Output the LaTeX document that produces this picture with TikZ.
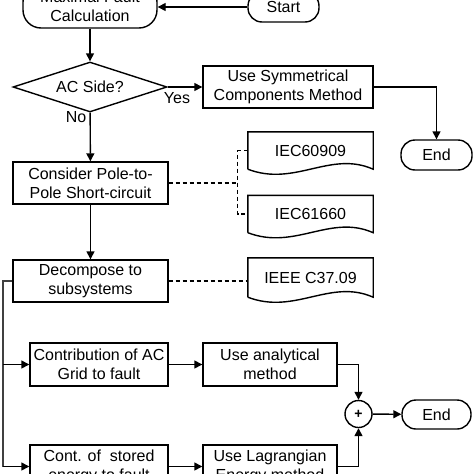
\documentclass[tikz,border=0pt]{standalone}
\usepackage{fontspec}
\setmainfont{Liberation Sans}
\usetikzlibrary{arrows.meta,shapes.geometric,calc}

\tikzset{
  box/.style={draw, line width=1.4pt, minimum height=42pt, align=center, inner sep=1pt},
  term/.style={draw, line width=1.4pt, rounded corners=14pt, minimum height=30pt, align=center},
  dec/.style={draw, diamond, line width=1.4pt, aspect=3, inner sep=0pt, minimum width=154pt, minimum height=50pt},
  doc/.style={minimum width=125pt, minimum height=37pt, inner sep=0pt},
  sumnode/.style={draw, circle, line width=1.4pt, minimum size=27pt, inner sep=0pt},
  flow/.style={line width=1.4pt, -{Triangle[length=8pt,width=8pt]}},
  link/.style={line width=1.3pt, dash pattern=on 4pt off 3pt},
}

% document shape drawn round a doc node
\newcommand{\docwave}[1]{%
  \draw[line width=1.4pt] (#1.south west) -- (#1.north west) -- (#1.north east) -- (#1.south east)
    .. controls +(-43,-19) and +(47,18) .. (#1.south west);}

\begin{document}
\begin{tikzpicture}[x=1pt, y=-1pt, every node/.append style={font=\fontsize{16}{19}\selectfont}]

\useasboundingbox (0,0) rectangle (474,474);
\clip (0,0) rectangle (474,474);

% Top part
\node[term, minimum width=134pt, minimum height=44pt, rounded corners=18pt] (maxf) at (90,6) {Maximal Fault\\Calculation};
\node[term, minimum width=71pt] (start) at (283.5,7) {Start};
\node[dec] (acside) at (90,87) {AC Side?};
\node[box, minimum width=170pt] (sym) at (288,87) {Use Symmetrical\\Components Method};
\node[term, minimum width=71pt] (end1) at (436.5,155) {End};

\node (yes) at (177,98) {Yes};
\node (no) at (76,117) {No};

% DC side
\node[box, minimum width=155pt] (consider) at (90.5,183) {Consider Pole-to-\\Pole Short-circuit};
\node[box, minimum width=155pt] (decomp) at (90.5,281) {Decompose to\\subsystems};

% Standards
\node[doc] (iec1) at (310.5,150.5) {IEC60909};
\node[doc] (iec2) at (310.5,214) {IEC61660};
\node[doc, minimum height=39pt] (ieee) at (310.5,277.5) {IEEE C37.09};
\docwave{iec1}
\docwave{iec2}
\docwave{ieee}

% Subsystems
\node[box, minimum width=138pt, minimum height=43pt] (contrib) at (99,364.5) {Contribution of AC\\Grid to fault};
\node[box, minimum width=134pt, minimum height=43pt] (analytic) at (270,364.5) {Use analytical\\method};
\node[box, minimum width=138pt, minimum height=43pt] (cont2) at (99,466.5) {Cont. of \ stored\\energy to fault};
\node[box, minimum width=134pt, minimum height=43pt] (lagr) at (270,466.5) {Use Lagrangian\\Energy method};
\node[sumnode, font=\fontsize{14}{14}\selectfont\bfseries] (plus) at (358.5,414) {+};
\node[term, minimum width=69pt, minimum height=29pt] (end2) at (436.5,414.5) {End};

% Connectors
\draw[flow] (start.west) -- (start.west -| maxf.east);
\draw[flow] (maxf) -- (acside);
\draw[flow] (acside) -- (sym);
\draw[flow] (sym.east) -| (end1.north);
\draw[flow] (acside) -- (consider);
\draw[flow] (consider) -- (decomp);

\draw[link] (iec1.west) -- ++(-10,0) coordinate (brk) |- (iec2.west);
\draw[link] (consider.east) -- (consider.east -| brk);
\draw[link] (decomp.east) -- (decomp.east -| ieee.west);

\coordinate (bus) at (3,281);
\draw[line width=2.4pt, black!75] (decomp.west) -- (bus) -- (bus |- cont2.west);
\draw[flow] (bus |- contrib.west) -- (contrib.west);
\draw[flow] (bus |- cont2.west) -- (cont2.west);

\draw[flow] (contrib) -- (analytic);
\draw[flow] (cont2) -- (lagr);
\draw[flow] (analytic.east) -| (plus.north);
\draw[flow] (lagr.east) -| (plus.south);
\draw[flow] (plus) -- (end2);

\end{tikzpicture}
\end{document}
